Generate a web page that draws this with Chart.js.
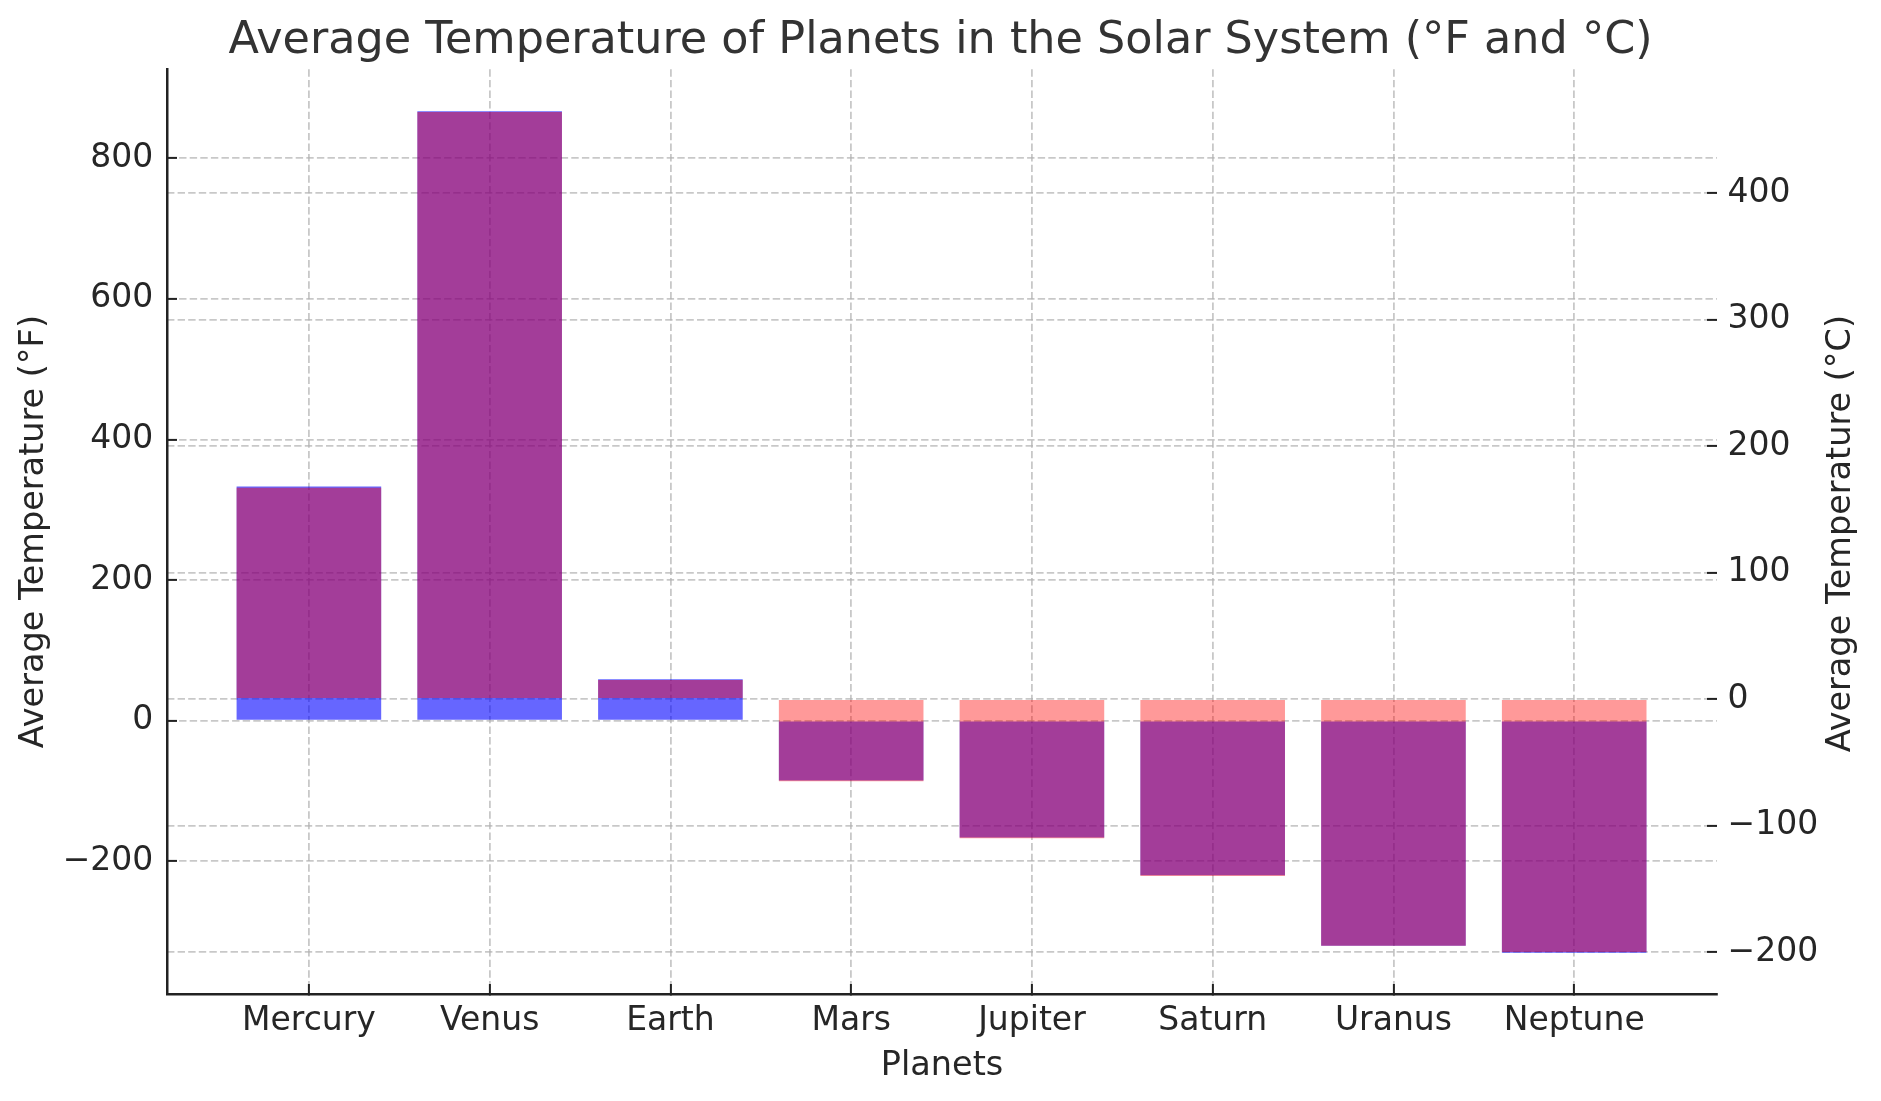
<!DOCTYPE html>
<html>
<head>
<meta charset="utf-8">
<title>Average Temperature of Planets</title>
<script src="https://cdn.jsdelivr.net/npm/chart.js@4/dist/chart.umd.min.js"></script>
<style>
  html, body { margin: 0; padding: 0; background: #fff; overflow: hidden; }
  canvas { display: block; }
</style>
</head>
<body>
<canvas id="tempChart" width="1881" height="1101"></canvas>
<script>
// Planets and their average temperatures
var planets = ['Mercury', 'Venus', 'Earth', 'Mars', 'Jupiter', 'Saturn', 'Uranus', 'Neptune'];
var tempF = [333, 867, 59, -85, -166, -220, -320, -330];
var tempC = [167, 464, 15, -65, -110, -140, -195, -200];

// Tick labels for the two y axes
var ticksF = [-200, 0, 200, 400, 600, 800];
var ticksC = [-200, -100, 0, 100, 200, 300, 400];

var FONT = 'DejaVu Sans';
var gridColor = 'rgba(176, 176, 176, 0.7)';
var gridDash = [7.4, 3.2];

function minus(v) {
  return String(v).replace('-', '\u2212');
}

// Celsius axis label on the right, reading upwards like matplotlib
var rightTitle = {
  id: 'rightTitle',
  afterDraw: function (chart) {
    var ctx = chart.ctx;
    var area = chart.chartArea;
    ctx.save();
    ctx.translate(chart.scales.yC.right - 40, (area.top + area.bottom) / 2 + 2);
    ctx.rotate(-Math.PI / 2);
    ctx.font = '33.5px "' + FONT + '"';
    ctx.fillStyle = '#262626';
    ctx.textAlign = 'center';
    ctx.textBaseline = 'middle';
    ctx.fillText('Average Temperature (\u00b0C)', 0, 0);
    ctx.restore();
  },
};

var tempChart = new Chart(document.getElementById('tempChart'), {
  type: 'bar',
  data: {
    datasets: [
      {
        label: 'Temperature (\u00b0F)',
        data: planets.map(function (p, i) { return { x: i, y: tempF[i] }; }),
        backgroundColor: 'rgba(0, 0, 255, 0.6)',
        yAxisID: 'yF',
        grouped: false,
        order: 2,
        barPercentage: 0.8,
        categoryPercentage: 1,
      },
      {
        label: 'Temperature (\u00b0C)',
        data: planets.map(function (p, i) { return { x: i, y: tempC[i] }; }),
        backgroundColor: 'rgba(255, 0, 0, 0.4)',
        yAxisID: 'yC',
        grouped: false,
        order: 1,
        barPercentage: 0.8,
        categoryPercentage: 1,
      },
    ],
  },
  options: {
    responsive: false,
    devicePixelRatio: 1,
    animation: false,
    layout: { padding: 0 },
    plugins: {
      legend: { display: false },
      tooltip: { enabled: false },
      title: {
        display: true,
        text: 'Average Temperature of Planets in the Solar System (\u00b0F and \u00b0C)',
        color: '#333333',
        font: { family: FONT, size: 44.5, weight: 'normal' },
        padding: { top: 14.5, bottom: 1.4 },
      },
    },
    scales: {
      x: {
        type: 'linear',
        position: 'bottom',
        min: -0.785,
        max: 7.79,
        offset: false,
        z: 1,
        afterBuildTicks: function (axis) {
          axis.ticks = planets.map(function (p, i) { return { value: i }; });
        },
        afterFit: function (axis) { axis.height = 107; },
        grid: {
          offset: false,
          color: gridColor,
          lineWidth: 1.8,
          tickLength: -10,
          tickColor: '#222',
          tickWidth: 2,
          tickBorderDash: [],
        },
        border: { color: '#222', width: 2.5, dash: gridDash },
        ticks: {
          autoSkip: false,
          maxRotation: 0,
          padding: 17.8,
          color: '#262626',
          font: { family: FONT, size: 33 },
          callback: function (v) { return planets[v]; },
        },
        title: {
          display: true,
          text: 'Planets',
          color: '#262626',
          font: { family: FONT, size: 33.5 },
          padding: { top: 0, bottom: 14.3 },
        },
      },
      yF: {
        type: 'linear',
        position: 'left',
        min: -388.8,
        max: 926.6,
        z: 1,
        afterBuildTicks: function (axis) {
          axis.ticks = ticksF.map(function (v) { return { value: v }; });
        },
        afterFit: function (axis) { axis.width = 167; },
        grid: {
          color: gridColor,
          lineWidth: 1.8,
          tickLength: -10,
          tickColor: '#222',
          tickWidth: 2,
          tickBorderDash: [],
        },
        border: { color: '#222', width: 2.5, dash: gridDash },
        ticks: {
          padding: 23.7,
          color: '#262626',
          font: { family: FONT, size: 33 },
          callback: minus,
        },
        title: {
          display: true,
          text: 'Average Temperature (\u00b0F)',
          color: '#262626',
          font: { family: FONT, size: 33.5 },
          padding: { top: 14, bottom: 0 },
        },
      },
      yC: {
        type: 'linear',
        position: 'right',
        min: -233.2,
        max: 497.8,
        z: 1,
        afterBuildTicks: function (axis) {
          axis.ticks = ticksC.map(function (v) { return { value: v }; });
        },
        afterFit: function (axis) { axis.width = 164; },
        grid: {
          color: gridColor,
          lineWidth: 1.8,
          tickLength: -10,
          tickColor: '#222',
          tickWidth: 2,
          tickBorderDash: [],
        },
        border: { display: false, dash: gridDash },
        ticks: {
          padding: 20.5,
          color: '#262626',
          font: { family: FONT, size: 33 },
          callback: minus,
        },
      },
    },
  },
  plugins: [rightTitle],
});
</script>
</body>
</html>
